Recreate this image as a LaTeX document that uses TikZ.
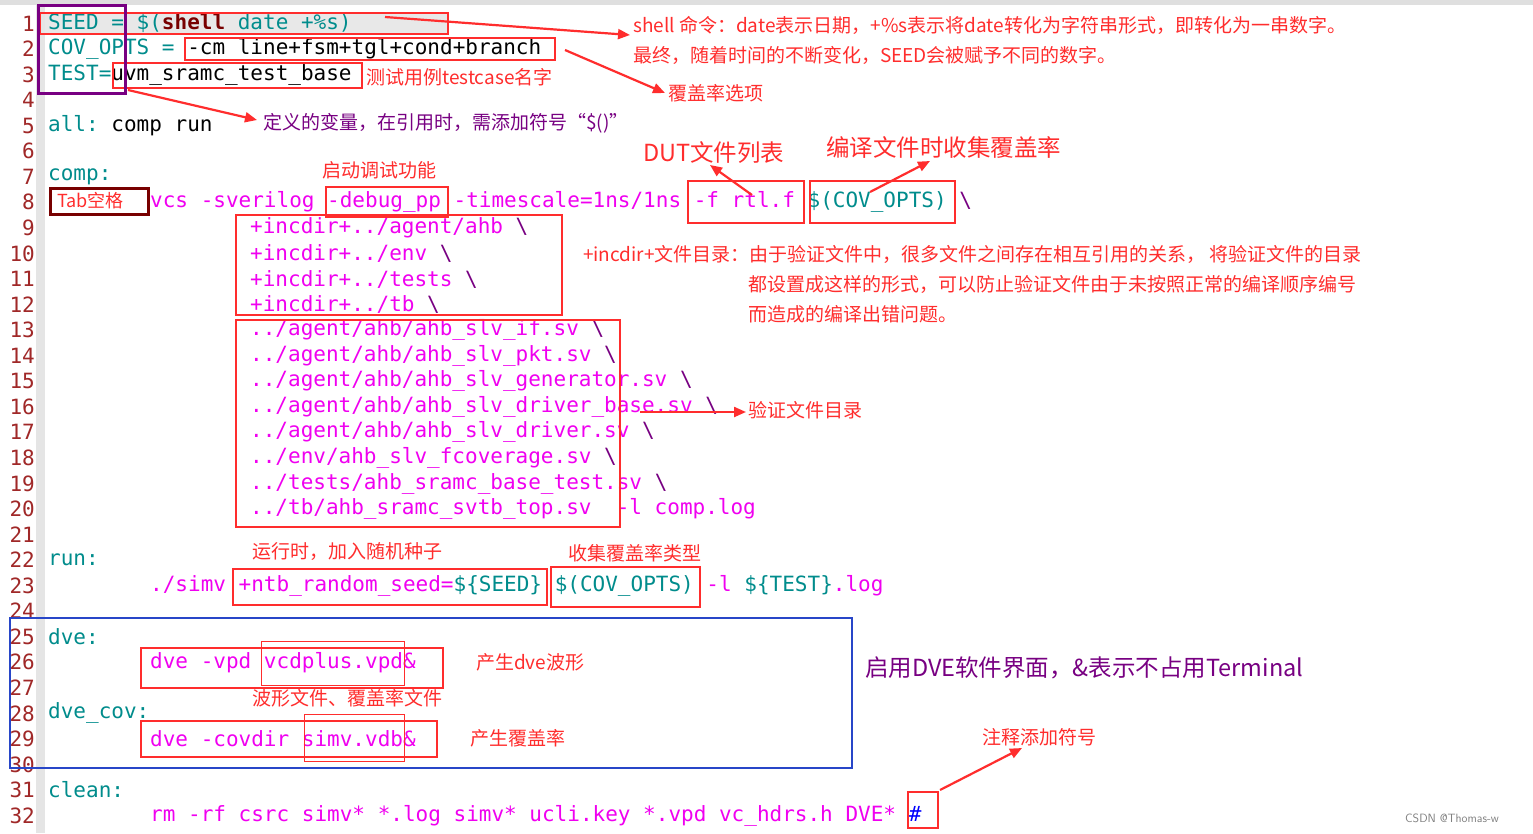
\documentclass[tikz,border=0pt]{standalone}
\usepackage{fontspec}
\setmonofont{DejaVu Sans Mono}
\newfontfamily\cjk{Noto Sans CJK SC}
\usetikzlibrary{arrows.meta}
\definecolor{teal2}{RGB}{0,140,140}
\definecolor{mag}{RGB}{240,0,240}
\definecolor{lnum}{RGB}{160,40,40}
\definecolor{ann}{RGB}{255,45,45}
\definecolor{purp}{RGB}{120,0,130}
\definecolor{dred}{RGB}{120,0,0}
\definecolor{bluebox}{RGB}{40,70,200}
\tikzset{
 code/.style={anchor=west,inner sep=0pt,font=\fontsize{21}{21}\selectfont\ttfamily},
 lno/.style={anchor=east,inner sep=0pt,text=lnum,font=\fontsize{21}{21}\selectfont\ttfamily},
 note/.style={anchor=west,inner sep=0pt,text=ann,font=\fontsize{19}{19}\selectfont\cjk},
 bignote/.style={anchor=west,inner sep=0pt,text=ann,font=\fontsize{23.5}{23.5}\selectfont\cjk},
 rbox/.style={draw=ann,line width=1.3pt},
 tbox/.style={draw=ann,line width=2.6pt},
 arr/.style={draw=ann,line width=2.2pt,-{Triangle[length=12pt,width=10pt]}},
}
\begin{document}
\begin{tikzpicture}[x=1pt,y=-1pt]
\useasboundingbox (0,0) rectangle (1533,833);
\fill[white] (0,0) rectangle (1533,833);
\fill[gray!25] (0,0) rectangle (1533,5);
\fill[gray!20] (36,5) rectangle (45,833);
\fill[gray!18] (45,12) rectangle (448,35);
% line numbers
\foreach \n/\y in {1/23.5,2/49,3/74.5,4/100,5/125.5,6/151,7/176.8,8/202.3,9/227.9,10/253.5,11/279,12/304.5,13/330,14/355.5,15/381.2,16/406.5,17/432.3,18/457.9,19/483.5,20/509,21/534.5,22/560,23/585.5,24/611,25/636.5,26/662.3,27/687.8,28/713.4,29/738.9,30/764.5,31/790,32/815.5}
  \node[lno] (n\n) at (35,\y) {\n};
% code
\node[code] (c1) at (48,23.5) {\textcolor{teal2}{SEED = \$(}\textcolor{dred}{\textbf{shell}}\textcolor{teal2}{\ date +\%s)}};
\node[code] (c2) at (48,49) {\textcolor{teal2}{COV\_OPTS =} -cm line+fsm+tgl+cond+branch};
\node[code] (c3) at (48,74.5) {\textcolor{teal2}{TEST=}uvm\_sramc\_test\_base};
\node[code] (c5) at (48,125.5) {\textcolor{teal2}{all:} comp run};
\node[code,text=teal2] (c7) at (48,176.8) {comp:};
\node[code,text=mag] (c8) at (150,202.3) {vcs -sverilog -debug\_pp -timescale=1ns/1ns -f rtl.f \textcolor{teal2}{\$(COV\_OPTS)} \textcolor{purp}{\textbackslash}};
\node[code,text=mag] (c9) at (250,227.9) {+incdir+../agent/ahb \textcolor{purp}{\textbackslash}};
\node[code,text=mag] (c10) at (250,253.5) {+incdir+../env \textcolor{purp}{\textbackslash}};
\node[code,text=mag] (c11) at (250,279) {+incdir+../tests \textcolor{purp}{\textbackslash}};
\node[code,text=mag] (c12) at (250,304.5) {+incdir+../tb \textcolor{purp}{\textbackslash}};
\node[code,text=mag] (c13) at (250,330) {../agent/ahb/ahb\_slv\_if.sv \textcolor{purp}{\textbackslash}};
\node[code,text=mag] (c14) at (250,355.5) {../agent/ahb/ahb\_slv\_pkt.sv \textcolor{purp}{\textbackslash}};
\node[code,text=mag] (c15) at (250,381.2) {../agent/ahb/ahb\_slv\_generator.sv \textcolor{purp}{\textbackslash}};
\node[code,text=mag] (c16) at (250,406.5) {../agent/ahb/ahb\_slv\_driver\_base.sv \textcolor{purp}{\textbackslash}};
\node[code,text=mag] (c17) at (250,432.3) {../agent/ahb/ahb\_slv\_driver.sv \textcolor{purp}{\textbackslash}};
\node[code,text=mag] (c18) at (250,457.9) {../env/ahb\_slv\_fcoverage.sv \textcolor{purp}{\textbackslash}};
\node[code,text=mag] (c19) at (250,483.5) {../tests/ahb\_sramc\_base\_test.sv \textcolor{purp}{\textbackslash}};
\node[code,text=mag] (c20) at (250,509) {../tb/ahb\_sramc\_svtb\_top.sv\ \ -l comp.log};
\node[code,text=teal2] (c22) at (48,560) {run:};
\node[code,text=mag] (c23) at (150,585.5) {./simv +ntb\_random\_seed=\textcolor{teal2}{\$\{SEED\}} \textcolor{teal2}{\$(COV\_OPTS)} -l \textcolor{teal2}{\$\{TEST\}}.log};
\node[code,text=teal2] (c25) at (48,636.5) {dve:};
\node[code,text=mag] (c26) at (150,662.3) {dve -vpd vcdplus.vpd\&};
\node[code,text=teal2] (c28) at (48,713.4) {dve\_cov:};
\node[code,text=mag] (c29) at (150,738.9) {dve -covdir simv.vdb\&};
\node[code,text=teal2] (c31) at (48,790) {clean:};
\node[code,text=mag] (c32) at (150,815.5) {rm -rf csrc simv* *.log simv* ucli.key *.vpd vc\_hdrs.h DVE* \textcolor{blue}{\#}};
% boxes
\draw[rbox] (40,13) rectangle (448,34);
\draw[rbox] (185,38) rectangle (555,60);
\draw[rbox] (113,63) rectangle (362,88);
\draw[draw=purp,line width=3pt] (38,5) rectangle (125,93);
\draw[draw=dred,line width=3pt] (50,188) rectangle (148,214);
\node[note,font=\fontsize{18}{18}\selectfont\cjk] (tab) at (57,201) {Tab空格};
\draw[rbox] (326,187) rectangle (448,217);
\draw[tbox] (688,181) rectangle (804,223);
\draw[tbox] (810,181) rectangle (955,223);
\draw[rbox] (236,215) rectangle (562,315);
\draw[rbox] (236,320) rectangle (620,527);
\draw[rbox] (233,569) rectangle (547,605);
\draw[tbox] (551,567) rectangle (700,607);
\draw[draw=bluebox,line width=1.2pt] (10,618) rectangle (852,768);
\draw[rbox] (141,648) rectangle (443,688);
\draw[draw=ann,line width=1pt] (261,641) rectangle (404,685);
\draw[rbox] (141,721) rectangle (437,757);
\draw[draw=ann,line width=1pt] (304,714) rectangle (404,761);
\draw[rbox] (908,792) rectangle (938,828);
% notes
\node[note] (t1) at (633,25) {shell 命令：date表示日期，+\%s表示将date转化为字符串形式，即转化为一串数字。};
\node[note] (t2) at (633,55) {最终，随着时间的不断变化，SEED会被赋予不同的数字。};
\node[note] (t3) at (668,93) {覆盖率选项};
\node[note] (t4) at (366,77) {测试用例testcase名字};
\node[note,text=purp] (t5) at (263,123) {定义的变量，在引用时，需添加符号“\$()”};
\node[note] (t6) at (322,170) {启动调试功能};
\node[bignote] (t7) at (643,153) {DUT文件列表};
\node[bignote] (t8) at (826,148) {编译文件时收集覆盖率};
\node[note] (t9) at (583,254) {+incdir+文件目录：由于验证文件中，很多文件之间存在相互引用的关系， 将验证文件的目录};
\node[note] (t10) at (748,284) {都设置成这样的形式，可以防止验证文件由于未按照正常的编译顺序编号};
\node[note] (t11) at (748,314) {而造成的编译出错问题。};
\node[note] (t12) at (748,410) {验证文件目录};
\node[note] (t13) at (252,552) {运行时，加入随机种子};
\node[note] (t14) at (568,553) {收集覆盖率类型};
\node[note] (t15) at (476,662) {产生dve波形};
\node[bignote,text=purp] (t16) at (865,668) {启用DVE软件界面，\&表示不占用Terminal};
\node[note] (t17) at (252,698) {波形文件、覆盖率文件};
\node[note] (t18) at (470,738) {产生覆盖率};
\node[note] (t19) at (982,737) {注释添加符号};
\node[anchor=west,inner sep=0pt,text=gray,font=\fontsize{12}{12}\selectfont\sffamily] (wm) at (1405,818) {CSDN @Thomas-w};
% arrows
\coordinate (a1) at (385,17); \coordinate (b1) at (630,35);
\coordinate (a2) at (565,50); \coordinate (b2) at (665,93);
\coordinate (a3) at (128,90); \coordinate (b3) at (257,120);
\coordinate (a4) at (752,195); \coordinate (b4) at (710,165);
\coordinate (a5) at (870,192); \coordinate (b5) at (930,161);
\coordinate (a6) at (640,412); \coordinate (b6) at (746,412);
\coordinate (a7) at (940,790); \coordinate (b7) at (1022,748);
\foreach \i in {1,...,7} \draw[arr] (a\i) -- (b\i);
\end{tikzpicture}
\end{document}
